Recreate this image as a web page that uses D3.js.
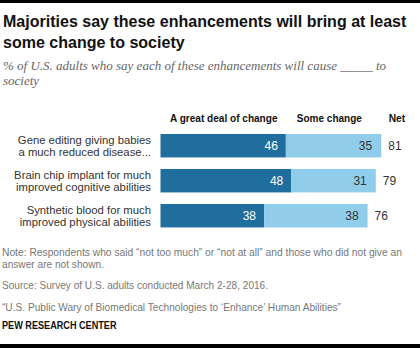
<!DOCTYPE html>
<html>
<head>
<meta charset="utf-8">
<script src="https://cdn.jsdelivr.net/npm/d3@7"></script>
<style>
  body { margin: 0; background: #fff; }
  svg { display: block; }
  text { font-family: "Liberation Sans", Arial, sans-serif; }
</style>
</head>
<body>
<div id="chart"></div>
<script>
// chart data
var categories = [
    ["Gene editing giving babies", "a much reduced disease..."],
    ["Brain chip implant for much", "improved cognitive abilities"],
    ["Synthetic blood for much", "improved physical abilities"]
];
var greatDeal = [46, 48, 38];
var someChange = [35, 31, 38];
var net = [81, 79, 76];
var seriesNames = ["A great deal of change", "Some change", "Net"];

var width = 420, height = 348;
var darkBlue = "#1f6e9e", lightBlue = "#8fcdea";

var svg = d3.select("#chart").append("svg")
    .attr("width", width)
    .attr("height", height);

// top and bottom rules
svg.append("rect").attr("x", 0).attr("y", 0).attr("width", width).attr("height", 3).attr("fill", "#000");
svg.append("rect").attr("x", 0).attr("y", 344).attr("width", width).attr("height", 4).attr("fill", "#000");

// title - original face is a condensed gothic, so squeeze Arial horizontally
var titleLines = ["Majorities say these enhancements will bring at least", "some change to society"];
var titleG = svg.append("g");
titleG.selectAll(".title")
    .data(titleLines)
    .enter()
    .append("text")
    .attr("class", "title")
    .attr("x", 0)
    .attr("y", function(d, i) { return 27 + i * 21.5; })
    .style("font-size", "17px")
    .style("font-weight", "bold")
    .style("fill", "#111")
    .text(function(d) { return d; });
var natural = titleG.select(".title").node().getComputedTextLength();
titleG.attr("transform", "translate(3,0) scale(" + (403.5 / natural) + ",1)");

// subtitle
var subtitle = ["% of U.S. adults who say each of these enhancements will cause _____ to", "society"];
svg.selectAll(".subtitle")
    .data(subtitle)
    .enter()
    .append("text")
    .attr("x", 3)
    .attr("y", function(d, i) { return 70 + i * 15; })
    .style("font-family", "'Liberation Serif', Georgia, serif")
    .style("font-style", "italic")
    .style("font-size", "13px")
    .style("fill", "#666")
    .text(function(d) { return d; });

// scales
var x = d3.scaleLinear().domain([0, 100]).range([160.5, 433]);
var y = d3.scaleBand()
    .domain(d3.range(categories.length))
    .range([128.2, 233.2])
    .paddingInner(0.33)
    .paddingOuter(0.165);

var rows = categories.map(function(c, i) {
    return { label: c, great: greatDeal[i], some: someChange[i], net: net[i] };
});

var g = svg.selectAll(".row")
    .data(rows)
    .enter()
    .append("g")
    .attr("class", "row")
    .attr("transform", function(d, i) { return "translate(0," + y(i) + ")"; });

var bh = y.bandwidth();

g.append("rect")
    .attr("x", x(0))
    .attr("y", 0)
    .attr("width", function(d) { return x(d.great) - x(0); })
    .attr("height", bh)
    .attr("fill", darkBlue);

g.append("rect")
    .attr("x", function(d) { return x(d.great); })
    .attr("y", 0)
    .attr("width", function(d) { return x(d.great + d.some) - x(d.great); })
    .attr("height", bh)
    .attr("fill", lightBlue);

// value labels inside bars
g.append("text")
    .attr("x", function(d) { return x(d.great) - 8; })
    .attr("y", bh / 2 + 4.5)
    .attr("text-anchor", "end")
    .style("font-size", "12px")
    .style("fill", "#fff")
    .text(function(d) { return d.great; });

g.append("text")
    .attr("x", function(d) { return x(d.great + d.some) - 9; })
    .attr("y", bh / 2 + 4.5)
    .attr("text-anchor", "end")
    .style("font-size", "12px")
    .style("fill", "#333")
    .text(function(d) { return d.some; });

// net
g.append("text")
    .attr("x", function(d) { return x(d.net) + 7; })
    .attr("y", bh / 2 + 4.5)
    .style("font-size", "12px")
    .style("fill", "#333")
    .text(function(d) { return d.net; });

// category labels
g.append("text")
    .attr("text-anchor", "end")
    .style("font-size", "11.3px")
    .style("fill", "#333")
    .selectAll("tspan")
    .data(function(d) { return d.label; })
    .enter()
    .append("tspan")
    .attr("x", 151)
    .attr("y", function(d, i) { return bh / 2 - 1.5 + i * 12; })
    .text(function(d) { return d; });

// column headers
var first = rows[0];
var headers = [
    { text: seriesNames[0], x: x(0) + 9.5, len: 107.5 },
    { text: seriesNames[1], x: x(first.great) + 11, len: 65 },
    { text: seriesNames[2], x: x(first.net) + 7.5, len: 16.5 }
];
svg.selectAll(".header")
    .data(headers)
    .enter()
    .append("text")
    .attr("class", "header")
    .attr("x", function(d) { return d.x; })
    .attr("y", 121.5)
    .attr("textLength", function(d) { return d.len; })
    .attr("lengthAdjust", "spacingAndGlyphs")
    .style("font-size", "11px")
    .style("font-weight", "bold")
    .style("fill", "#111")
    .text(function(d) { return d.text; });

// footer notes
var notes = [
    { text: "Note: Respondents who said \u201cnot too much\u201d or \u201cnot at all\u201d and those who did not give an", y: 256, len: 400 },
    { text: "answer are not shown.", y: 268, len: 102 },
    { text: "Source: Survey of U.S. adults conducted March 2-28, 2016.", y: 288.5, len: 266 },
    { text: "\u201cU.S. Public Wary of Biomedical Technologies to \u2018Enhance\u2019 Human Abilities\u201d", y: 311, len: 339 }
];
svg.selectAll(".note")
    .data(notes)
    .enter()
    .append("text")
    .attr("class", "note")
    .attr("x", 2)
    .attr("y", function(d) { return d.y; })
    .attr("textLength", function(d) { return d.len; })
    .attr("lengthAdjust", "spacingAndGlyphs")
    .style("font-size", "10.5px")
    .style("fill", "#777")
    .text(function(d) { return d.text; });

svg.append("text")
    .attr("x", 2)
    .attr("y", 329)
    .attr("textLength", 114.5)
    .attr("lengthAdjust", "spacingAndGlyphs")
    .style("font-size", "11px")
    .style("font-weight", "bold")
    .style("fill", "#111")
    .text("PEW RESEARCH CENTER");
</script>
</body>
</html>
